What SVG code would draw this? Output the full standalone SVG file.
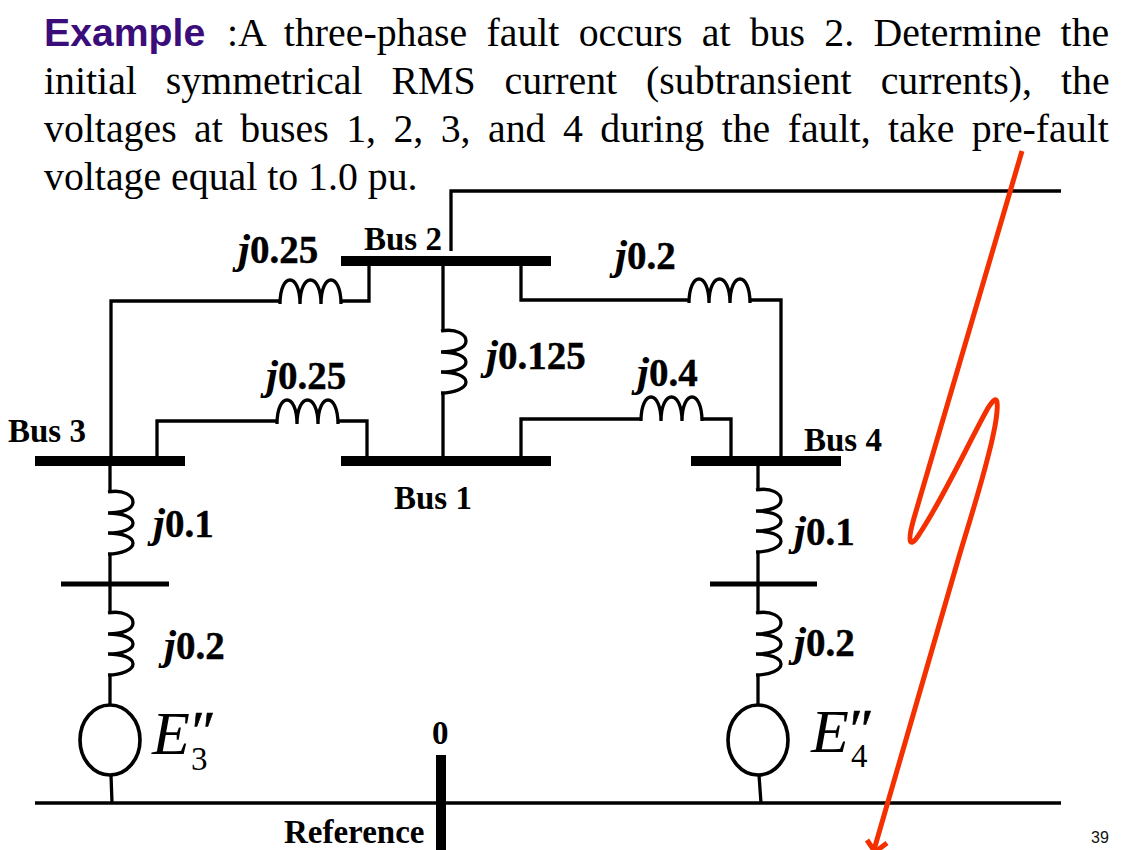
<svg xmlns="http://www.w3.org/2000/svg" width="1133" height="850" viewBox="0 0 1133 850">
<style>
text{font-family:"Liberation Serif","Times New Roman",serif;fill:#000}
.h{font-size:39.800px}
.hb{font-family:"Liberation Sans",Arial,sans-serif;font-weight:700;font-size:39.200px;fill:#3b0d7a}
.bus{font-size:33px;font-weight:700}
.val{font-size:39px;font-weight:700}
.val .j{font-style:italic;font-size:43px}
.val .d{stroke:#000;stroke-width:.4}
.E{font-size:62px;font-style:italic}
.pr{font-size:58px;font-style:italic;stroke:#000;stroke-width:.6}
.sub{font-size:33px}
.pn{font-family:"Liberation Sans",Arial,sans-serif;font-size:16px;fill:#111}
.w{fill:none;stroke:#000;stroke-width:3.3}
.bar{fill:#000}
.gen{fill:#fff;stroke:#000;stroke-width:3.6}
.fault{fill:none;stroke:#f53000;stroke-width:5;stroke-linecap:butt;stroke-linejoin:round}
</style>
<defs>
<path id="ch" class="w" d="M0 3C0-29 20-29 20 3M20 3C20-29 41-29 41 3M41 3C41-29 61-29 61 3"/>
<path id="cv" class="w" d="M-2 0C14-3 23 4 23 10C23 17 12 21-2 21C12 21 23 25 23 31C23 37 12 41-2 41C12 41 23 45 23 51C23 57 12 62-2 62"/>
</defs>
<g id="title">
<text class="hb" x="44" y="46">Example</text>
<text class="h" x="227" y="46" word-spacing="9.300">:A three-phase fault occurs at bus 2. Determine the</text>
<text class="h" x="44" y="94" word-spacing="19">initial symmetrical RMS current (subtransient currents), the</text>
<text class="h" x="44" y="142" word-spacing="7.500">voltages at buses 1, 2, 3, and 4 during the fault, take pre-fault</text>
<text class="h" x="44" y="190">voltage equal to 1.0 pu.</text>
</g>
<g id="connectors">
<path class="w" d="M451 251V191H1061"/>
<path class="w" d="M111 456V301H279M341 301H369V266"/>
<path class="w" d="M443 266V331M443 393V456"/>
<path class="w" d="M157 456V421H276M338 421H367V456"/>
<path class="w" d="M521 266V300H688M750 300H781V456"/>
<path class="w" d="M521 456V419H640M702 419H731V456"/>
<path class="w" d="M110 466V492M110 553V613M110 675V705M111 775L112 803"/>
<path class="w" d="M758 466V490M758 552V613M758 675V705M759 775L761 803"/>
</g>
<g id="bus-2"><rect class="bar" x="341" y="256" width="210" height="10"/><text class="bus" x="364" y="250">Bus 2</text></g>
<g id="bus-1"><rect class="bar" x="341" y="456" width="210" height="10"/><text class="bus" x="394" y="509">Bus 1</text></g>
<g id="bus-3"><rect class="bar" x="35" y="456" width="150" height="10"/><text class="bus" x="8" y="442">Bus 3</text></g>
<g id="bus-4"><rect class="bar" x="691" y="456" width="150" height="10"/><text class="bus" x="804" y="451">Bus 4</text></g>
<g id="x-bus2-bus3"><use href="#ch" x="280" y="301"/><text class="val" x="238" y="263"><tspan class="j">j</tspan><tspan class="d">0.25</tspan></text></g>
<g id="x-bus1-bus3"><use href="#ch" x="277" y="421"/><text class="val" x="266" y="389"><tspan class="j">j</tspan><tspan class="d">0.25</tspan></text></g>
<g id="x-bus2-bus4"><use href="#ch" x="689" y="300"/><text class="val" x="615" y="269"><tspan class="j">j</tspan><tspan class="d">0.2</tspan></text></g>
<g id="x-bus1-bus4"><use href="#ch" x="641" y="418"/><text class="val" x="637" y="386"><tspan class="j">j</tspan><tspan class="d">0.4</tspan></text></g>
<g id="x-bus1-bus2"><use href="#cv" x="443" y="331"/><text class="val" x="486" y="369"><tspan class="j">j</tspan><tspan class="d">0.125</tspan></text></g>
<g id="x-bus3-t"><use href="#cv" x="110" y="492"/><text class="val" x="153" y="537"><tspan class="j">j</tspan><tspan class="d">0.1</tspan></text></g>
<g id="x-bus4-t"><use href="#cv" x="758" y="490"/><text class="val" x="794" y="545"><tspan class="j">j</tspan><tspan class="d">0.1</tspan></text></g>
<g id="x-gen3"><use href="#cv" x="110" y="613"/><text class="val" x="164" y="659"><tspan class="j">j</tspan><tspan class="d">0.2</tspan></text></g>
<g id="x-gen4"><use href="#cv" x="758" y="613"/><text class="val" x="794" y="656"><tspan class="j">j</tspan><tspan class="d">0.2</tspan></text></g>
<g id="tap-3"><rect class="bar" x="61" y="581.500" width="108" height="5"/></g>
<g id="tap-4"><rect class="bar" x="710" y="581.500" width="107" height="5"/></g>
<g id="gen-3"><ellipse class="gen" cx="110" cy="740" rx="30" ry="35"/><text class="E" x="152" y="754">E</text><text class="pr" x="188" y="751">″</text><text class="sub" x="191" y="770">3</text></g>
<g id="gen-4"><ellipse class="gen" cx="758" cy="740" rx="30" ry="35"/><text class="E" x="811" y="752">E</text><text class="pr" x="846" y="749">″</text><text class="sub" x="851" y="767">4</text></g>
<g id="reference"><path class="w" d="M35 803H1061"/><rect class="bar" x="436" y="755" width="10" height="95"/><text class="bus" x="432" y="744">0</text><text class="bus" x="284" y="843">Reference</text></g>
<text class="pn" x="1091" y="843">39</text>
<g id="fault"><path class="fault" d="M1022 151L914 518C906 546 911 548 920 533C945 495 970 440 988 408C997 394 999 398 996 420C990 460 968 525 958 560L874 850"/><path class="fault" d="M867 840L875 852L887 843"/></g>
</svg>
